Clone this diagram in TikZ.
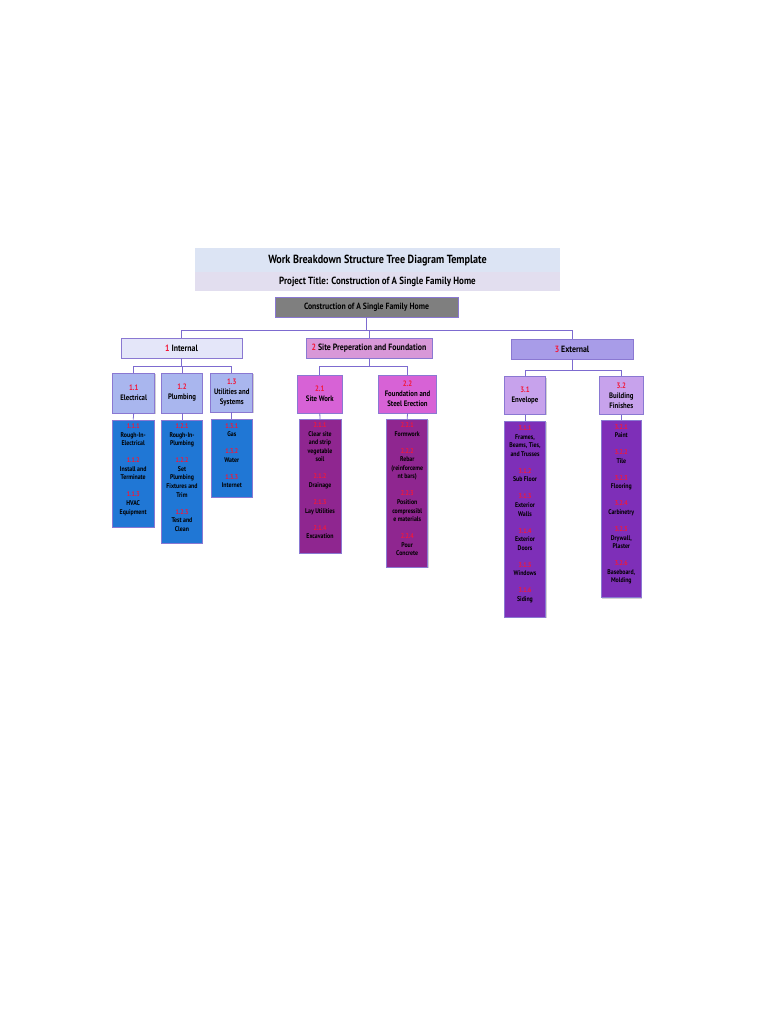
\documentclass[tikz,border=0pt]{standalone}
\usepackage{fontspec}
\setmainfont{PT Sans}[FakeStretch=0.86]
\usetikzlibrary{shadows}
\definecolor{bandtop}{HTML}{DCE4F4}
\definecolor{bandbot}{HTML}{E2DEEF}
\definecolor{rootfill}{HTML}{7F7F7F}
\definecolor{bordc}{HTML}{8A78D2}
\definecolor{connc}{HTML}{7D6BD0}
\definecolor{intfill}{HTML}{E4E6F9}
\definecolor{sitefill}{HTML}{D898D8}
\definecolor{extfill}{HTML}{A89CE8}
\definecolor{btwo}{HTML}{A9B6EE}
\definecolor{bthree}{HTML}{2077D5}
\definecolor{mtwo}{HTML}{D762D6}
\definecolor{mthree}{HTML}{8F2690}
\definecolor{ptwo}{HTML}{C7A2EC}
\definecolor{pthree}{HTML}{7E2FB8}
\definecolor{numred}{HTML}{F2183A}
\newcommand{\wbsnum}[1]{\textcolor{numred}{#1}}
\tikzset{
  box/.style={draw=bordc, line width=0.8pt, inner sep=0pt, align=center,
    drop shadow={shadow xshift=0.8pt, shadow yshift=-0.8pt, opacity=0.25, fill=black!70}},
  rootbox/.style={box, fill=rootfill, font=\fontsize{9}{10}\selectfont\bfseries},
  lonebox/.style={box, font=\fontsize{9.1}{10}\selectfont\bfseries, minimum height=20pt},
  ltwobox/.style={box, font=\fontsize{7.9}{10}\selectfont\bfseries},
  lthreebox/.style={box, anchor=north},
  lthreetext/.style={inner sep=0pt, align=center, anchor=north, font=\fontsize{6.8}{8.6}\selectfont\bfseries},
  conn/.style={draw=connc, line width=0.8pt},
  titletext/.style={inner sep=0pt, font=\fontsize{11.8}{13}\selectfont\bfseries}
}
\begin{document}
\begin{tikzpicture}[x=1pt,y=-1pt]
\useasboundingbox (0,0) rectangle (768,1024);
\fill[white] (0,0) rectangle (768,1024);
% title band
\fill[bandtop] (195,248) rectangle (560,272);
\fill[bandbot] (195,272) rectangle (560,291);
\node[titletext] (title) at (377.5,261) {Work Breakdown Structure Tree Diagram Template};
\node[titletext, font=\fontsize{10.4}{11}\selectfont\bfseries] (ptitle) at (377.5,282) {Project Title: Construction of A Single Family Home};
% root
\node[rootbox, minimum width=183pt, minimum height=20.5pt] (root) at (366.5,307.3) {Construction of A Single Family Home};
% level 1
\node[lonebox, fill=intfill, minimum width=121pt] (int) at (181.5,348) {\wbsnum{1} Internal};
\node[lonebox, fill=sitefill, minimum width=126pt, minimum height=19.5pt] (site) at (369,348.5) {\wbsnum{2} Site Preperation and Foundation};
\node[lonebox, fill=extfill, minimum width=122pt] (ext) at (572,349) {\wbsnum{3} External};
% level 2
\node[ltwobox, fill=btwo, minimum width=42pt, minimum height=40pt] (e11) at (133.7,393) {\wbsnum{1.1}\\Electrical};
\node[ltwobox, fill=btwo, minimum width=40.5pt, minimum height=40pt] (e12) at (182,393) {\wbsnum{1.2}\\Plumbing};
\node[ltwobox, fill=btwo, minimum width=42pt, minimum height=39pt] (e13) at (231.8,392.5) {\wbsnum{1.3}\\Utilities and\\Systems};
\node[ltwobox, fill=mtwo, minimum width=45pt, minimum height=38pt] (e21) at (319.8,394) {\wbsnum{2.1}\\Site Work};
\node[ltwobox, fill=mtwo, minimum width=58pt, minimum height=38pt] (e22) at (407.5,394) {\wbsnum{2.2}\\Foundation and\\Steel Erection};
\node[ltwobox, fill=ptwo, minimum width=41.5pt, minimum height=37.5pt] (e31) at (525,395.5) {\wbsnum{3.1}\\Envelope};
\node[ltwobox, fill=ptwo, minimum width=44pt, minimum height=37.5pt] (e32) at (621.3,395.5) {\wbsnum{3.2}\\Building\\Finishes};
% level 3 boxes
\node[lthreebox, fill=bthree, minimum width=42pt, minimum height=107.5pt] (f11) at (133.2,419.5) {};
\node[lthreebox, fill=bthree, minimum width=40.5pt, minimum height=123.5pt] (f12) at (182,419.5) {};
\node[lthreebox, fill=bthree, minimum width=41.7pt, minimum height=77.5pt] (f13) at (231.8,419) {};
\node[lthreebox, fill=mthree, minimum width=42pt, minimum height=133.5pt] (f21) at (320,419) {};
\node[lthreebox, fill=mthree, minimum width=41pt, minimum height=147.5pt] (f22) at (407.2,419) {};
\node[lthreebox, fill=pthree, minimum width=41.4pt, minimum height=195.5pt] (f31) at (525,421) {};
\node[lthreebox, fill=pthree, minimum width=40.7pt, minimum height=177.3pt] (f32) at (621.3,420) {};
% level 3 texts
\node[lthreetext] (t11) at ([yshift=-4pt]f11.north) {\wbsnum{1.1.1}\\Rough-In-\\Electrical\\[8.4pt]\wbsnum{1.1.2}\\Install and\\Terminate\\[8.4pt]\wbsnum{1.1.3}\\HVAC\\Equipment};
\node[lthreetext] (t12) at ([yshift=-4pt]f12.north) {\wbsnum{1.2.1}\\Rough-In-\\Plumbing\\[8.4pt]\wbsnum{1.2.2}\\Set\\Plumbing\\Fixtures and\\Trim\\[8.4pt]\wbsnum{1.2.3}\\Test and\\Clean};
\node[lthreetext] (t13) at ([yshift=-4pt]f13.north) {\wbsnum{1.3.1}\\Gas\\[8.4pt]\wbsnum{1.3.2}\\Water\\[8.4pt]\wbsnum{1.3.3}\\Internet};
\node[lthreetext] (t21) at ([yshift=-3.5pt]f21.north) {\wbsnum{2.1.1}\\Clear site\\and strip\\vegetable\\soil\\[8.4pt]\wbsnum{2.1.2}\\Drainage\\[8.4pt]\wbsnum{2.1.3}\\Lay Utilities\\[8.4pt]\wbsnum{2.1.4}\\Excavation};
\node[lthreetext] (t22) at ([yshift=-3.5pt]f22.north) {\wbsnum{2.2.1}\\Formwork\\[8.4pt]\wbsnum{2.2.2}\\Rebar\\(reinforceme\\nt bars)\\[8.4pt]\wbsnum{2.2.3}\\Position\\compressibl\\e materials\\[8.4pt]\wbsnum{2.2.4}\\Pour\\Concrete};
\node[lthreetext] (t31) at ([yshift=-4.5pt]f31.north) {\wbsnum{3.1.1}\\Frames,\\Beams, Ties,\\and Trusses\\[8.4pt]\wbsnum{3.1.2}\\Sub Floor\\[8.4pt]\wbsnum{3.1.3}\\Exterior\\Walls\\[8.4pt]\wbsnum{3.1.4}\\Exterior\\Doors\\[8.4pt]\wbsnum{3.1.5}\\Windows\\[8.4pt]\wbsnum{3.1.6}\\Siding};
\node[lthreetext] (t32) at ([yshift=-4pt]f32.north) {\wbsnum{3.2.1}\\Paint\\[8.4pt]\wbsnum{3.2.2}\\Tile\\[8.4pt]\wbsnum{3.2.3}\\Flooring\\[8.4pt]\wbsnum{3.2.4}\\Carbinetry\\[8.4pt]\wbsnum{3.2.5}\\Drywall,\\Plaster\\[8.4pt]\wbsnum{3.2.6}\\Baseboard,\\Molding};
% connectors
\draw[conn] (root.south) -- ++(0,12.5) -| (int.north);
\draw[conn] (root.south) -- ++(0,12.5) -| (site.north);
\draw[conn] (root.south) -- ++(0,12.5) -| (ext.north);
\draw[conn] (int.south) -- ++(0,7.5) -| (e11.north);
\draw[conn] (int.south) -- ++(0,7.5) -| (e12.north);
\draw[conn] (int.south) -- ++(0,7.5) -| (e13.north);
\draw[conn] (site.south) -- ++(0,7.5) -| (e21.north);
\draw[conn] (site.south) -- ++(0,7.5) -| (e22.north);
\draw[conn] (ext.south) -- ++(0,11) -| (e31.north);
\draw[conn] (ext.south) -- ++(0,11) -| (e32.north);
\draw[conn] (e11.south) -- (f11.north);
\draw[conn] (e12.south) -- (f12.north);
\draw[conn] (e13.south) -- (f13.north);
\draw[conn] (e21.south) -- (f21.north);
\draw[conn] (e22.south) -- (f22.north);
\draw[conn] (e31.south) -- (f31.north);
\draw[conn] (e32.south) -- (f32.north);
\end{tikzpicture}
\end{document}
